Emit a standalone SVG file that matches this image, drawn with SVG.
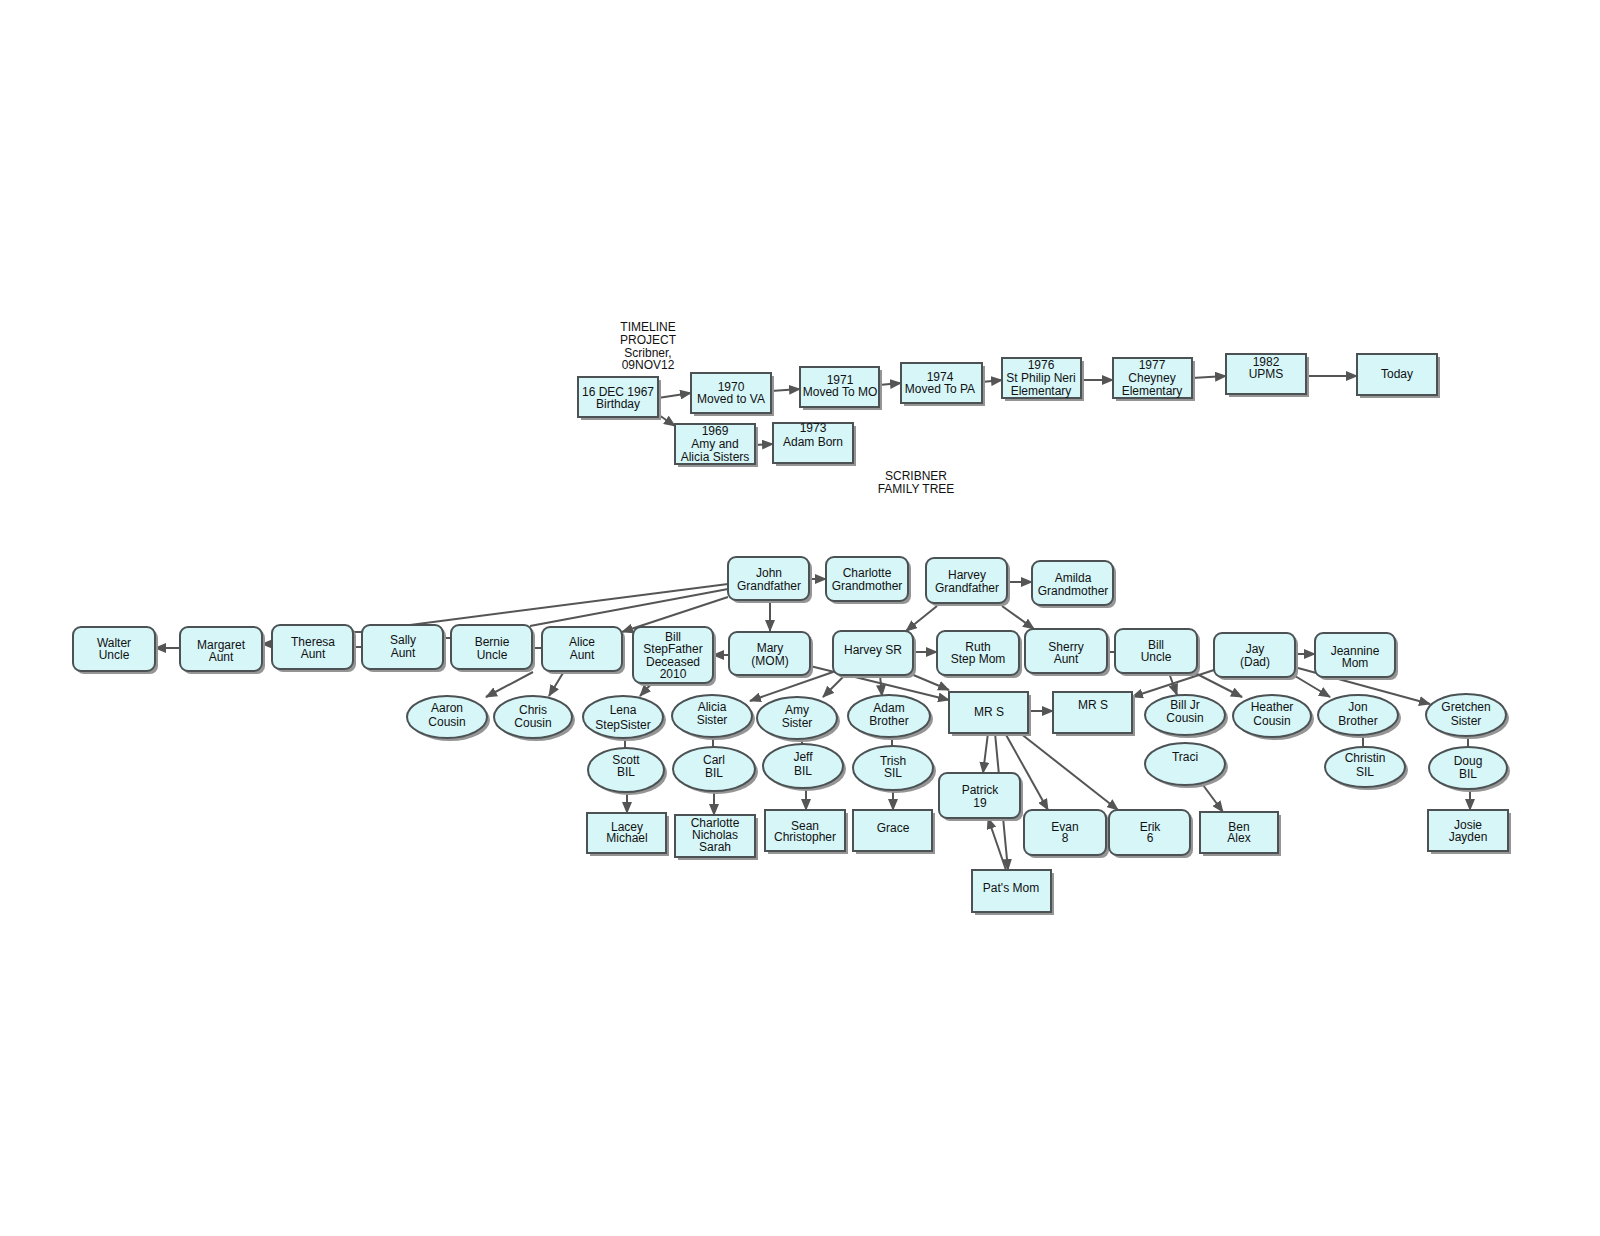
<svg xmlns="http://www.w3.org/2000/svg" width="1600" height="1236" viewBox="0 0 1600 1236">
<style>
.bx{fill:#d6f6f8;stroke:#4c5254;stroke-width:2}
.sh{fill:#959595}
.t{font-family:"Liberation Sans",Arial,sans-serif;font-size:12px;fill:#111;text-anchor:middle}
.c{stroke:#555;stroke-width:2;fill:none}
.a{stroke:#555;stroke-width:2;fill:none;marker-end:url(#ah)}
</style>
<defs>
<marker id="ah" viewBox="0 0 12 10" refX="11" refY="5" markerWidth="12" markerHeight="10" markerUnits="userSpaceOnUse" orient="auto">
<path d="M0,0 L12,5 L0,10 z" fill="#555"/>
</marker>
</defs>
<rect width="1600" height="1236" fill="#fff"/>

<g id="labels">
<text class="t"><tspan x="648" y="331">TIMELINE</tspan><tspan x="648" y="344">PROJECT</tspan><tspan x="648" y="357">Scribner,</tspan><tspan x="648" y="369">09NOV12</tspan></text>
<text class="t"><tspan x="916" y="480">SCRIBNER</tspan><tspan x="916" y="493">FAMILY TREE</tspan></text>
</g>

<g id="connectors">
<!-- timeline -->
<line class="a" x1="658" y1="398" x2="691" y2="393"/>
<line class="a" x1="656" y1="413" x2="675" y2="426"/>
<line class="a" x1="771" y1="391" x2="800" y2="389"/>
<line class="a" x1="879" y1="385" x2="901" y2="383"/>
<line class="a" x1="982" y1="382" x2="1002" y2="380"/>
<line class="a" x1="1081" y1="380" x2="1113" y2="380"/>
<line class="a" x1="1192" y1="378" x2="1226" y2="376"/>
<line class="a" x1="1306" y1="376" x2="1357" y2="376"/>
<line class="a" x1="755" y1="445" x2="773" y2="444"/>
<!-- family tree -->
<line class="c" x1="728" y1="584" x2="410" y2="625"/>
<line class="c" x1="728" y1="589" x2="530" y2="626"/>
<line class="a" x1="728" y1="597" x2="622" y2="632"/>
<line class="a" x1="809" y1="579" x2="826" y2="579"/>
<line class="a" x1="770" y1="601" x2="770" y2="631"/>
<line class="a" x1="729" y1="655" x2="713" y2="655"/>
<line class="c" x1="443" y1="638" x2="451" y2="638"/>
<line class="c" x1="532" y1="648" x2="542" y2="648"/>
<line class="c" x1="353" y1="632" x2="362" y2="632"/>
<line class="c" x1="353" y1="647" x2="362" y2="647"/>
<line class="a" x1="274" y1="644" x2="262" y2="644"/>
<line class="a" x1="180" y1="648" x2="155" y2="648"/>
<line class="a" x1="533" y1="672" x2="486" y2="697"/>
<line class="a" x1="563" y1="673" x2="549" y2="696"/>
<line class="a" x1="652" y1="683" x2="640" y2="696"/>
<line class="a" x1="937" y1="606" x2="906" y2="631"/>
<line class="a" x1="1002" y1="606" x2="1034" y2="629"/>
<line class="a" x1="1007" y1="582" x2="1032" y2="582"/>
<line class="a" x1="913" y1="652" x2="937" y2="652"/>
<line class="a" x1="810" y1="666" x2="949" y2="700"/>
<line class="a" x1="911" y1="674" x2="949" y2="690"/>
<line class="a" x1="833" y1="672" x2="750" y2="701"/>
<line class="a" x1="843" y1="677" x2="823" y2="697"/>
<line class="a" x1="880" y1="675" x2="882" y2="696"/>
<line class="a" x1="1028" y1="711" x2="1053" y2="711"/>
<line class="a" x1="1214" y1="670" x2="1132" y2="697"/>
<line class="a" x1="1169" y1="673" x2="1177" y2="695"/>
<line class="a" x1="1195" y1="673" x2="1242" y2="697"/>
<line class="a" x1="1295" y1="654" x2="1315" y2="654"/>
<line class="a" x1="1295" y1="676" x2="1330" y2="697"/>
<line class="a" x1="1298" y1="668" x2="1430" y2="704"/>
<line class="c" x1="1107" y1="652" x2="1115" y2="652"/>
<line class="c" x1="625" y1="737" x2="625" y2="748"/>
<line class="a" x1="627" y1="792" x2="627" y2="813"/>
<line class="c" x1="713" y1="737" x2="713" y2="747"/>
<line class="a" x1="714" y1="791" x2="714" y2="815"/>
<line class="c" x1="802" y1="738" x2="802" y2="745"/>
<line class="a" x1="806" y1="788" x2="806" y2="810"/>
<line class="c" x1="892" y1="737" x2="892" y2="747"/>
<line class="a" x1="893" y1="790" x2="893" y2="810"/>
<line class="c" x1="1363" y1="735" x2="1363" y2="747"/>
<line class="c" x1="1468" y1="736" x2="1468" y2="747"/>
<line class="a" x1="1470" y1="789" x2="1470" y2="810"/>
<line class="a" x1="1203" y1="785" x2="1223" y2="812"/>
<line class="a" x1="988" y1="733" x2="983" y2="773"/>
<line class="a" x1="995" y1="733" x2="1008" y2="870"/>
<line class="a" x1="1006" y1="870" x2="988" y2="818"/>
<line class="a" x1="1005" y1="733" x2="1048" y2="810"/>
<line class="a" x1="1020" y1="733" x2="1118" y2="810"/>
</g>

<!-- timeline nodes -->
<g id="t-birth"><rect class="sh" x="581" y="380" width="80" height="40"/><rect class="bx" x="578" y="377" width="80" height="40"/><text class="t"><tspan x="618" y="396">16 DEC 1967</tspan><tspan x="618" y="408">Birthday</tspan></text></g>
<g id="t-1970"><rect class="sh" x="694" y="376" width="80" height="40"/><rect class="bx" x="691" y="373" width="80" height="40"/><text class="t"><tspan x="731" y="391">1970</tspan><tspan x="731" y="403">Moved to VA</tspan></text></g>
<g id="t-1971"><rect class="sh" x="803" y="370" width="79" height="40"/><rect class="bx" x="800" y="367" width="79" height="40"/><text class="t"><tspan x="840" y="384">1971</tspan><tspan x="840" y="396">Moved To MO</tspan></text></g>
<g id="t-1974"><rect class="sh" x="904" y="366" width="81" height="40"/><rect class="bx" x="901" y="363" width="81" height="40"/><text class="t"><tspan x="940" y="381">1974</tspan><tspan x="940" y="393">Moved To PA</tspan></text></g>
<g id="t-1976"><rect class="sh" x="1005" y="361" width="79" height="40"/><rect class="bx" x="1002" y="358" width="79" height="40"/><text class="t"><tspan x="1041" y="369">1976</tspan><tspan x="1041" y="382">St Philip Neri</tspan><tspan x="1041" y="395">Elementary</tspan></text></g>
<g id="t-1977"><rect class="sh" x="1116" y="361" width="79" height="40"/><rect class="bx" x="1113" y="358" width="79" height="40"/><text class="t"><tspan x="1152" y="369">1977</tspan><tspan x="1152" y="382">Cheyney</tspan><tspan x="1152" y="395">Elementary</tspan></text></g>
<g id="t-1982"><rect class="sh" x="1229" y="357" width="80" height="40"/><rect class="bx" x="1226" y="354" width="80" height="40"/><text class="t"><tspan x="1266" y="366">1982</tspan><tspan x="1266" y="378">UPMS</tspan></text></g>
<g id="t-today"><rect class="sh" x="1360" y="357" width="80" height="41"/><rect class="bx" x="1357" y="354" width="80" height="41"/><text class="t" x="1397" y="378">Today</text></g>
<g id="t-1969"><rect class="sh" x="678" y="427" width="80" height="40"/><rect class="bx" x="675" y="424" width="80" height="40"/><text class="t"><tspan x="715" y="435">1969</tspan><tspan x="715" y="448">Amy and</tspan><tspan x="715" y="461">Alicia Sisters</tspan></text></g>
<g id="t-1973"><rect class="sh" x="776" y="426" width="80" height="40"/><rect class="bx" x="773" y="423" width="80" height="40"/><text class="t"><tspan x="813" y="432">1973</tspan><tspan x="813" y="446">Adam Born</tspan></text></g>

<!-- family tree rounded nodes -->
<g id="n-walter"><rect class="sh" x="76" y="630" width="82" height="44" rx="8"/><rect class="bx" x="73" y="627" width="82" height="44" rx="8"/><text class="t"><tspan x="114" y="647">Walter</tspan><tspan x="114" y="659">Uncle</tspan></text></g>
<g id="n-margaret"><rect class="sh" x="183" y="630" width="82" height="44" rx="8"/><rect class="bx" x="180" y="627" width="82" height="44" rx="8"/><text class="t"><tspan x="221" y="649">Margaret</tspan><tspan x="221" y="661">Aunt</tspan></text></g>
<g id="n-theresa"><rect class="sh" x="275" y="628" width="81" height="44" rx="8"/><rect class="bx" x="272" y="625" width="81" height="44" rx="8"/><text class="t"><tspan x="313" y="646">Theresa</tspan><tspan x="313" y="658">Aunt</tspan></text></g>
<g id="n-sally"><rect class="sh" x="365" y="628" width="81" height="44" rx="8"/><rect class="bx" x="362" y="625" width="81" height="44" rx="8"/><text class="t"><tspan x="403" y="644">Sally</tspan><tspan x="403" y="657">Aunt</tspan></text></g>
<g id="n-bernie"><rect class="sh" x="454" y="628" width="81" height="44" rx="8"/><rect class="bx" x="451" y="625" width="81" height="44" rx="8"/><text class="t"><tspan x="492" y="646">Bernie</tspan><tspan x="492" y="659">Uncle</tspan></text></g>
<g id="n-alice"><rect class="sh" x="545" y="630" width="80" height="44" rx="8"/><rect class="bx" x="542" y="627" width="80" height="44" rx="8"/><text class="t"><tspan x="582" y="646">Alice</tspan><tspan x="582" y="659">Aunt</tspan></text></g>
<g id="n-bill"><rect class="sh" x="636" y="630" width="80" height="56" rx="8"/><rect class="bx" x="633" y="627" width="80" height="56" rx="8"/><text class="t"><tspan x="673" y="641">Bill</tspan><tspan x="673" y="653">StepFather</tspan><tspan x="673" y="666">Deceased</tspan><tspan x="673" y="678">2010</tspan></text></g>
<g id="n-mary"><rect class="sh" x="732" y="635" width="81" height="43" rx="8"/><rect class="bx" x="729" y="632" width="81" height="43" rx="8"/><text class="t"><tspan x="770" y="652">Mary</tspan><tspan x="770" y="665">(MOM)</tspan></text></g>
<g id="n-john"><rect class="sh" x="731" y="560" width="81" height="43" rx="8"/><rect class="bx" x="728" y="557" width="81" height="43" rx="8"/><text class="t"><tspan x="769" y="577">John</tspan><tspan x="769" y="590">Grandfather</tspan></text></g>
<g id="n-charlotte"><rect class="sh" x="829" y="560" width="82" height="44" rx="8"/><rect class="bx" x="826" y="557" width="82" height="44" rx="8"/><text class="t"><tspan x="867" y="577">Charlotte</tspan><tspan x="867" y="590">Grandmother</tspan></text></g>
<g id="n-harveygf"><rect class="sh" x="929" y="561" width="81" height="45" rx="8"/><rect class="bx" x="926" y="558" width="81" height="45" rx="8"/><text class="t"><tspan x="967" y="579">Harvey</tspan><tspan x="967" y="592">Grandfather</tspan></text></g>
<g id="n-amilda"><rect class="sh" x="1035" y="564" width="81" height="44" rx="8"/><rect class="bx" x="1032" y="561" width="81" height="44" rx="8"/><text class="t"><tspan x="1073" y="582">Amilda</tspan><tspan x="1073" y="595">Grandmother</tspan></text></g>
<g id="n-harveysr"><rect class="sh" x="836" y="634" width="80" height="44" rx="8"/><rect class="bx" x="833" y="631" width="80" height="44" rx="8"/><text class="t" x="873" y="654">Harvey SR</text></g>
<g id="n-ruth"><rect class="sh" x="940" y="634" width="82" height="44" rx="8"/><rect class="bx" x="937" y="631" width="82" height="44" rx="8"/><text class="t"><tspan x="978" y="651">Ruth</tspan><tspan x="978" y="663">Step Mom</tspan></text></g>
<g id="n-sherry"><rect class="sh" x="1028" y="632" width="82" height="44" rx="8"/><rect class="bx" x="1025" y="629" width="82" height="44" rx="8"/><text class="t"><tspan x="1066" y="651">Sherry</tspan><tspan x="1066" y="663">Aunt</tspan></text></g>
<g id="n-billuncle"><rect class="sh" x="1118" y="632" width="82" height="44" rx="8"/><rect class="bx" x="1115" y="629" width="82" height="44" rx="8"/><text class="t"><tspan x="1156" y="649">Bill</tspan><tspan x="1156" y="661">Uncle</tspan></text></g>
<g id="n-jay"><rect class="sh" x="1217" y="636" width="81" height="44" rx="8"/><rect class="bx" x="1214" y="633" width="81" height="44" rx="8"/><text class="t"><tspan x="1255" y="653">Jay</tspan><tspan x="1255" y="666">(Dad)</tspan></text></g>
<g id="n-jeannine"><rect class="sh" x="1318" y="636" width="80" height="44" rx="8"/><rect class="bx" x="1315" y="633" width="80" height="44" rx="8"/><text class="t"><tspan x="1355" y="655">Jeannine</tspan><tspan x="1355" y="667">Mom</tspan></text></g>
<g id="n-patrick"><rect class="sh" x="942" y="776" width="81" height="45" rx="8"/><rect class="bx" x="939" y="773" width="81" height="45" rx="8"/><text class="t"><tspan x="980" y="794">Patrick</tspan><tspan x="980" y="807">19</tspan></text></g>
<g id="n-evan"><rect class="sh" x="1027" y="813" width="82" height="45" rx="8"/><rect class="bx" x="1024" y="810" width="82" height="45" rx="8"/><text class="t"><tspan x="1065" y="831">Evan</tspan><tspan x="1065" y="842">8</tspan></text></g>
<g id="n-erik"><rect class="sh" x="1112" y="813" width="81" height="45" rx="8"/><rect class="bx" x="1109" y="810" width="81" height="45" rx="8"/><text class="t"><tspan x="1150" y="831">Erik</tspan><tspan x="1150" y="842">6</tspan></text></g>

<!-- family tree square nodes -->
<g id="n-mrs1"><rect class="sh" x="952" y="695" width="79" height="41"/><rect class="bx" x="949" y="692" width="79" height="41"/><text class="t" x="989" y="716">MR S</text></g>
<g id="n-mrs2"><rect class="sh" x="1056" y="695" width="79" height="41"/><rect class="bx" x="1053" y="692" width="79" height="41"/><text class="t" x="1093" y="709">MR S</text></g>
<g id="n-lacey"><rect class="sh" x="590" y="816" width="79" height="40"/><rect class="bx" x="587" y="813" width="79" height="40"/><text class="t"><tspan x="627" y="831">Lacey</tspan><tspan x="627" y="842">Michael</tspan></text></g>
<g id="n-charlottekids"><rect class="sh" x="678" y="818" width="80" height="42"/><rect class="bx" x="675" y="815" width="80" height="42"/><text class="t"><tspan x="715" y="827">Charlotte</tspan><tspan x="715" y="839">Nicholas</tspan><tspan x="715" y="851">Sarah</tspan></text></g>
<g id="n-sean"><rect class="sh" x="768" y="813" width="80" height="41"/><rect class="bx" x="765" y="810" width="80" height="41"/><text class="t"><tspan x="805" y="830">Sean</tspan><tspan x="805" y="841">Christopher</tspan></text></g>
<g id="n-grace"><rect class="sh" x="856" y="813" width="79" height="41"/><rect class="bx" x="853" y="810" width="79" height="41"/><text class="t" x="893" y="832">Grace</text></g>
<g id="n-ben"><rect class="sh" x="1203" y="815" width="78" height="41"/><rect class="bx" x="1200" y="812" width="78" height="41"/><text class="t"><tspan x="1239" y="831">Ben</tspan><tspan x="1239" y="842">Alex</tspan></text></g>
<g id="n-patsmom"><rect class="sh" x="975" y="873" width="79" height="42"/><rect class="bx" x="972" y="870" width="79" height="42"/><text class="t" x="1011" y="892">Pat's Mom</text></g>
<g id="n-josie"><rect class="sh" x="1431" y="813" width="80" height="41"/><rect class="bx" x="1428" y="810" width="80" height="41"/><text class="t"><tspan x="1468" y="829">Josie</tspan><tspan x="1468" y="841">Jayden</tspan></text></g>

<!-- family tree ellipses -->
<g id="n-aaron"><ellipse class="sh" cx="450" cy="720" rx="40" ry="21"/><ellipse class="bx" cx="447" cy="717" rx="40" ry="21"/><text class="t"><tspan x="447" y="712">Aaron</tspan><tspan x="447" y="726">Cousin</tspan></text></g>
<g id="n-chris"><ellipse class="sh" cx="536" cy="720" rx="39" ry="21"/><ellipse class="bx" cx="533" cy="717" rx="39" ry="21"/><text class="t"><tspan x="533" y="714">Chris</tspan><tspan x="533" y="727">Cousin</tspan></text></g>
<g id="n-lena"><ellipse class="sh" cx="626" cy="720" rx="40" ry="21"/><ellipse class="bx" cx="623" cy="717" rx="40" ry="21"/><text class="t"><tspan x="623" y="714">Lena</tspan><tspan x="623" y="729">StepSister</tspan></text></g>
<g id="n-alicia"><ellipse class="sh" cx="715" cy="719" rx="40" ry="21"/><ellipse class="bx" cx="712" cy="716" rx="40" ry="21"/><text class="t"><tspan x="712" y="711">Alicia</tspan><tspan x="712" y="724">Sister</tspan></text></g>
<g id="n-amy"><ellipse class="sh" cx="800" cy="721" rx="40" ry="21"/><ellipse class="bx" cx="797" cy="718" rx="40" ry="21"/><text class="t"><tspan x="797" y="714">Amy</tspan><tspan x="797" y="727">Sister</tspan></text></g>
<g id="n-adam"><ellipse class="sh" cx="892" cy="719" rx="41" ry="21"/><ellipse class="bx" cx="889" cy="716" rx="41" ry="21"/><text class="t"><tspan x="889" y="712">Adam</tspan><tspan x="889" y="725">Brother</tspan></text></g>
<g id="n-scott"><ellipse class="sh" cx="629" cy="773" rx="38" ry="22"/><ellipse class="bx" cx="626" cy="770" rx="38" ry="22"/><text class="t"><tspan x="626" y="764">Scott</tspan><tspan x="626" y="776">BIL</tspan></text></g>
<g id="n-carl"><ellipse class="sh" cx="717" cy="772" rx="41" ry="22"/><ellipse class="bx" cx="714" cy="769" rx="41" ry="22"/><text class="t"><tspan x="714" y="764">Carl</tspan><tspan x="714" y="777">BIL</tspan></text></g>
<g id="n-jeff"><ellipse class="sh" cx="806" cy="769" rx="40" ry="22"/><ellipse class="bx" cx="803" cy="766" rx="40" ry="22"/><text class="t"><tspan x="803" y="761">Jeff</tspan><tspan x="803" y="775">BIL</tspan></text></g>
<g id="n-trish"><ellipse class="sh" cx="896" cy="771" rx="40" ry="22"/><ellipse class="bx" cx="893" cy="768" rx="40" ry="22"/><text class="t"><tspan x="893" y="765">Trish</tspan><tspan x="893" y="777">SIL</tspan></text></g>
<g id="n-billjr"><ellipse class="sh" cx="1188" cy="718" rx="40" ry="20"/><ellipse class="bx" cx="1185" cy="715" rx="40" ry="20"/><text class="t"><tspan x="1185" y="709">Bill Jr</tspan><tspan x="1185" y="722">Cousin</tspan></text></g>
<g id="n-traci"><ellipse class="sh" cx="1188" cy="767" rx="40" ry="21"/><ellipse class="bx" cx="1185" cy="764" rx="40" ry="21"/><text class="t" x="1185" y="761">Traci</text></g>
<g id="n-heather"><ellipse class="sh" cx="1275" cy="719" rx="39" ry="21"/><ellipse class="bx" cx="1272" cy="716" rx="39" ry="21"/><text class="t"><tspan x="1272" y="711">Heather</tspan><tspan x="1272" y="725">Cousin</tspan></text></g>
<g id="n-jon"><ellipse class="sh" cx="1361" cy="718" rx="40" ry="20"/><ellipse class="bx" cx="1358" cy="715" rx="40" ry="20"/><text class="t"><tspan x="1358" y="711">Jon</tspan><tspan x="1358" y="725">Brother</tspan></text></g>
<g id="n-gretchen"><ellipse class="sh" cx="1469" cy="718" rx="40" ry="21"/><ellipse class="bx" cx="1466" cy="715" rx="40" ry="21"/><text class="t"><tspan x="1466" y="711">Gretchen</tspan><tspan x="1466" y="725">Sister</tspan></text></g>
<g id="n-christin"><ellipse class="sh" cx="1368" cy="770" rx="40" ry="20"/><ellipse class="bx" cx="1365" cy="767" rx="40" ry="20"/><text class="t"><tspan x="1365" y="762">Christin</tspan><tspan x="1365" y="776">SIL</tspan></text></g>
<g id="n-doug"><ellipse class="sh" cx="1471" cy="771" rx="39" ry="21"/><ellipse class="bx" cx="1468" cy="768" rx="39" ry="21"/><text class="t"><tspan x="1468" y="765">Doug</tspan><tspan x="1468" y="778">BIL</tspan></text></g>
</svg>
